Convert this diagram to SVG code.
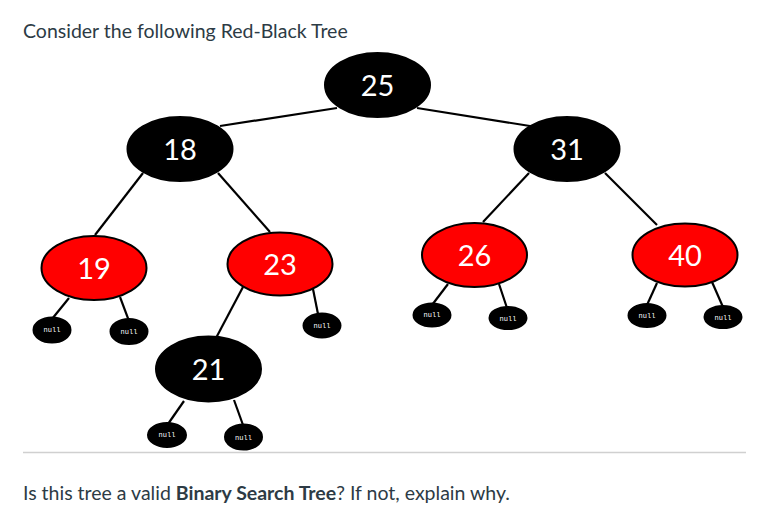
<svg xmlns="http://www.w3.org/2000/svg" width="768" height="525" viewBox="0 0 768 525">
<style>
.bg{fill:#fff}
.blk{fill:#000;stroke:#000;stroke-width:2}
.red{fill:#f00;stroke:#000;stroke-width:2}
.num{font-family:Lato,"Liberation Sans",sans-serif;font-size:29px;fill:#fff;text-anchor:middle}
.nul{font-family:"Liberation Mono",monospace;font-size:7px;fill:#fff;text-anchor:middle}
.edge line{stroke:#000;stroke-width:2.2}
.txt{font-family:Lato,"Liberation Sans",sans-serif;font-size:19.5px;fill:#2d3b45}
</style>
<rect class="bg" width="768" height="525"/>
<text class="txt" x="23" y="38">Consider the following Red-Black Tree</text>
<g class="edge" id="connectors">
<line x1="220" y1="126" x2="337" y2="108"/>
<line x1="417" y1="108" x2="530" y2="126"/>
<line x1="143" y1="173" x2="95" y2="235"/>
<line x1="218" y1="173" x2="270" y2="232"/>
<line x1="529" y1="173" x2="483" y2="222"/>
<line x1="605" y1="173" x2="657" y2="225"/>
<line x1="69" y1="298" x2="52" y2="319"/>
<line x1="120" y1="297" x2="129" y2="321"/>
<line x1="243" y1="287" x2="216" y2="338"/>
<line x1="313" y1="289" x2="318" y2="314"/>
<line x1="184" y1="401" x2="168" y2="424"/>
<line x1="234" y1="400" x2="243" y2="425"/>
<line x1="448" y1="284" x2="432" y2="305"/>
<line x1="499" y1="284" x2="507" y2="308"/>
<line x1="657" y1="283" x2="647" y2="305"/>
<line x1="712" y1="282" x2="723" y2="307"/>
</g>
<g id="n25"><ellipse class="blk" cx="377.5" cy="85" rx="52.5" ry="32"/><text class="num" x="377.5" y="96">25</text></g>
<g id="n18"><ellipse class="blk" cx="180" cy="149" rx="52.5" ry="32"/><text class="num" x="180" y="160">18</text></g>
<g id="n31"><ellipse class="blk" cx="567" cy="149" rx="52.5" ry="32"/><text class="num" x="567" y="160">31</text></g>
<g id="n19"><ellipse class="red" cx="94" cy="268" rx="52.5" ry="32"/><text class="num" x="94" y="279">19</text></g>
<g id="n23"><ellipse class="red" cx="280" cy="264" rx="52.5" ry="31.5"/><text class="num" x="280" y="275">23</text></g>
<g id="n26"><ellipse class="red" cx="474.5" cy="255" rx="52.5" ry="32"/><text class="num" x="474.5" y="266">26</text></g>
<g id="n40"><ellipse class="red" cx="685" cy="255" rx="52.5" ry="31.5"/><text class="num" x="685" y="266">40</text></g>
<g id="n21"><ellipse class="blk" cx="208.5" cy="369" rx="52.5" ry="32.5"/><text class="num" x="208.5" y="380">21</text></g>
<g id="null1"><ellipse class="blk" cx="52" cy="330" rx="18.5" ry="12.5"/><text class="nul" x="52" y="332">null</text></g>
<g id="null2"><ellipse class="blk" cx="129" cy="331.5" rx="18.5" ry="12.5"/><text class="nul" x="129" y="334">null</text></g>
<g id="null3"><ellipse class="blk" cx="322" cy="325.5" rx="18.5" ry="12"/><text class="nul" x="322" y="328">null</text></g>
<g id="null4"><ellipse class="blk" cx="167" cy="435" rx="19" ry="12"/><text class="nul" x="167" y="437">null</text></g>
<g id="null5"><ellipse class="blk" cx="243.5" cy="437" rx="18.5" ry="12.5"/><text class="nul" x="243.5" y="439.5">null</text></g>
<g id="null6"><ellipse class="blk" cx="432" cy="315" rx="18.5" ry="11.5"/><text class="nul" x="432" y="317">null</text></g>
<g id="null7"><ellipse class="blk" cx="508" cy="318" rx="18.5" ry="11"/><text class="nul" x="508" y="320.5">null</text></g>
<g id="null8"><ellipse class="blk" cx="647" cy="315.5" rx="18.5" ry="11.5"/><text class="nul" x="647" y="317.5">null</text></g>
<g id="null9"><ellipse class="blk" cx="723" cy="317" rx="18.5" ry="11"/><text class="nul" x="723" y="319.5">null</text></g>
<line x1="23" y1="452.5" x2="746" y2="452.5" stroke="#d0d0d0" stroke-width="1.5"/>
<text class="txt" x="23" y="500">Is this tree a valid <tspan font-weight="bold">Binary Search Tree</tspan>? If not, explain why.</text>
</svg>
